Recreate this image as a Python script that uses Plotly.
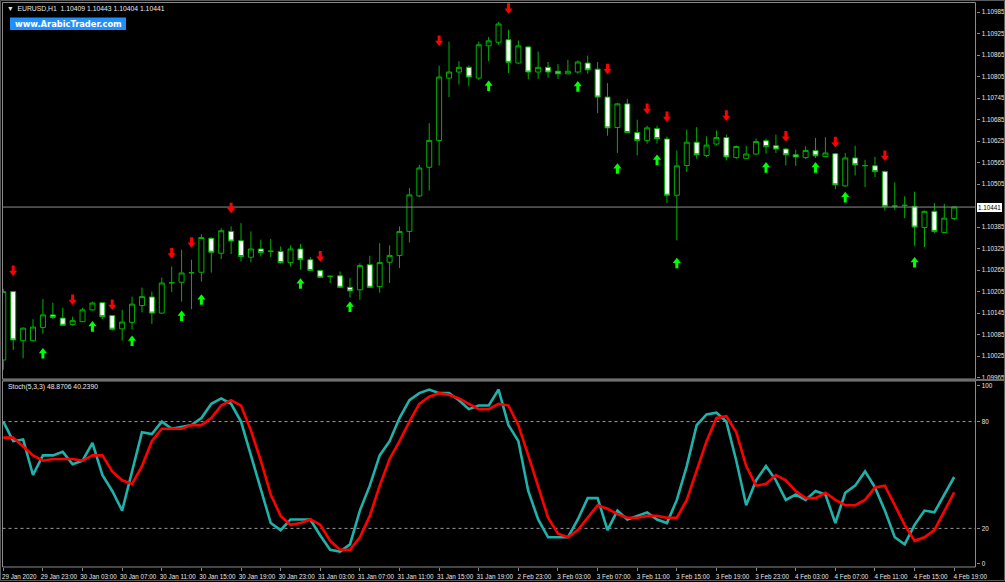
import plotly.graph_objects as go

# ---------------- data ----------------
symbol = "EURUSD,H1"
tick_labels = ["29 Jan 2020", "29 Jan 23:00", "30 Jan 03:00", "30 Jan 07:00", "30 Jan 11:00",
               "30 Jan 15:00", "30 Jan 19:00", "30 Jan 23:00", "31 Jan 03:00", "31 Jan 07:00",
               "31 Jan 11:00", "31 Jan 15:00", "31 Jan 19:00", "2 Feb 23:00", "3 Feb 03:00",
               "3 Feb 07:00", "3 Feb 11:00", "3 Feb 15:00", "3 Feb 19:00", "3 Feb 23:00",
               "4 Feb 03:00", "4 Feb 07:00", "4 Feb 11:00", "4 Feb 15:00", "4 Feb 19:00"]
bars_per_label = 4

open_ = [1.10014, 1.10205, 1.10068, 1.10068, 1.10105, 1.10140, 1.10131, 1.10113, 1.10121, 1.10154,
         1.10174, 1.10138, 1.10101, 1.10119, 1.10166, 1.10190, 1.10145, 1.10229, 1.10231, 1.10257,
         1.10259, 1.10354, 1.10312, 1.10373, 1.10347, 1.10301, 1.10324, 1.10317, 1.10317, 1.10286,
         1.10324, 1.10294, 1.10264, 1.10247, 1.10249, 1.10217, 1.10210, 1.10280, 1.10219, 1.10287,
         1.10306, 1.10373, 1.10472, 1.10552, 1.10627, 1.10801, 1.10818, 1.10831, 1.10801, 1.10891,
         1.10901, 1.10908, 1.10843, 1.10888, 1.10818, 1.10831, 1.10820, 1.10813, 1.10818, 1.10843,
         1.10826, 1.10748, 1.10663, 1.10729, 1.10649, 1.10627, 1.10660, 1.10631, 1.10474, 1.10557,
         1.10622, 1.10585, 1.10617, 1.10635, 1.10579, 1.10577, 1.10589, 1.10626, 1.10612, 1.10603,
         1.10587, 1.10579, 1.10599, 1.10582, 1.10590, 1.10500, 1.10578, 1.10556, 1.10556, 1.10540,
         1.10443, 1.10445, 1.10443, 1.10384, 1.10429, 1.10370, 1.10409]
high = [1.10213, 1.10207, 1.10105, 1.10128, 1.10184, 1.10174, 1.10160, 1.10135, 1.10160, 1.10177,
        1.10176, 1.10140, 1.10154, 1.10191, 1.10216, 1.10205, 1.10244, 1.10275, 1.10322, 1.10294,
        1.10365, 1.10356, 1.10382, 1.10387, 1.10396, 1.10373, 1.10350, 1.10352, 1.10331, 1.10334,
        1.10338, 1.10301, 1.10266, 1.10249, 1.10261, 1.10243, 1.10284, 1.10305, 1.10340, 1.10334,
        1.10387, 1.10494, 1.10559, 1.10675, 1.10836, 1.10903, 1.10848, 1.10836, 1.10903, 1.10916,
        1.10958, 1.10936, 1.10906, 1.10890, 1.10875, 1.10846, 1.10840, 1.10852, 1.10850, 1.10864,
        1.10846, 1.10787, 1.10732, 1.10743, 1.10685, 1.10668, 1.10668, 1.10638, 1.10599, 1.10657,
        1.10664, 1.10638, 1.10655, 1.10643, 1.10613, 1.10612, 1.10632, 1.10632, 1.10643, 1.10606,
        1.10601, 1.10610, 1.10634, 1.10636, 1.10592, 1.10592, 1.10612, 1.10573, 1.10581, 1.10543,
        1.10510, 1.10471, 1.10484, 1.10431, 1.10452, 1.10450, 1.10443]
low = [1.09987, 1.10042, 1.10019, 1.10066, 1.10087, 1.10128, 1.10110, 1.10110, 1.10120, 1.10152,
       1.10128, 1.10096, 1.10068, 1.10100, 1.10147, 1.10115, 1.10143, 1.10204, 1.10177, 1.10156,
       1.10233, 1.10258, 1.10296, 1.10310, 1.10289, 1.10287, 1.10303, 1.10301, 1.10283, 1.10275,
       1.10266, 1.10263, 1.10243, 1.10229, 1.10216, 1.10188, 1.10182, 1.10215, 1.10202, 1.10229,
       1.10271, 1.10342, 1.10469, 1.10487, 1.10557, 1.10748, 1.10783, 1.10778, 1.10796, 1.10848,
       1.10894, 1.10815, 1.10841, 1.10798, 1.10799, 1.10802, 1.10799, 1.10812, 1.10813, 1.10813,
       1.10703, 1.10640, 1.10592, 1.10648, 1.10585, 1.10618, 1.10618, 1.10452, 1.10348, 1.10539,
       1.10576, 1.10580, 1.10613, 1.10571, 1.10576, 1.10576, 1.10587, 1.10590, 1.10592, 1.10557,
       1.10556, 1.10575, 1.10578, 1.10581, 1.10491, 1.10498, 1.10529, 1.10497, 1.10525, 1.10431,
       1.10433, 1.10410, 1.10333, 1.10329, 1.10368, 1.10368, 1.10404]
close = [1.10205, 1.10070, 1.10103, 1.10106, 1.10140, 1.10133, 1.10111, 1.10124, 1.10154, 1.10173,
         1.10135, 1.10100, 1.10120, 1.10170, 1.10191, 1.10145, 1.10229, 1.10230, 1.10257, 1.10258,
         1.10356, 1.10315, 1.10375, 1.10346, 1.10303, 1.10324, 1.10314, 1.10318, 1.10286, 1.10324,
         1.10294, 1.10264, 1.10245, 1.10248, 1.10217, 1.10207, 1.10278, 1.10217, 1.10286, 1.10306,
         1.10373, 1.10475, 1.10550, 1.10627, 1.10804, 1.10818, 1.10831, 1.10804, 1.10894, 1.10905,
         1.10952, 1.10845, 1.10891, 1.10818, 1.10831, 1.10818, 1.10813, 1.10820, 1.10846, 1.10824,
         1.10748, 1.10662, 1.10729, 1.10649, 1.10627, 1.10662, 1.10632, 1.10474, 1.10556, 1.10622,
         1.10587, 1.10614, 1.10635, 1.10581, 1.10610, 1.10589, 1.10624, 1.10610, 1.10603, 1.10587,
         1.10581, 1.10599, 1.10584, 1.10592, 1.10503, 1.10578, 1.10559, 1.10557, 1.10540, 1.10443,
         1.10444, 1.10446, 1.10385, 1.10429, 1.10373, 1.10410, 1.10441]

# signal arrows (bar index, price level of arrow)
down_idx = [1, 7, 11, 17, 19, 23, 32, 44, 51, 61, 65, 67, 73, 79, 84, 89]
down_price = [1.10261, 1.10180, 1.10166, 1.10310, 1.10340, 1.10436, 1.10301, 1.10903, 1.10993,
              1.10824, 1.10713, 1.10691, 1.10694, 1.10636, 1.10620, 1.10582]
up_idx = [4, 9, 13, 18, 20, 30, 35, 49, 58, 62, 66, 68, 77, 82, 85, 92]
up_price = [1.10035, 1.10110, 1.10070, 1.10140, 1.10185, 1.10230, 1.10165, 1.10782, 1.10780,
            1.10551, 1.10575, 1.10287, 1.10554, 1.10554, 1.10471, 1.10289]

stoch_k = [80, 69, 70, 50, 61, 61, 63, 56, 58, 68, 50, 41, 30, 52, 74, 73, 80, 76, 77, 78,
           82, 90, 93, 90, 80, 61, 41, 23, 19, 25, 25, 25, 16, 8, 7, 11, 30, 44, 61, 69,
           82, 92, 96, 98, 96, 96, 92, 87, 89, 89, 98, 78, 69, 41, 25, 15, 15, 15, 25, 37,
           37, 19, 30, 25, 27, 29, 25, 23, 36, 55, 78, 84, 85, 80, 58, 33, 47, 55, 47, 36,
           39, 36, 41, 39, 23, 40, 44, 52, 43, 30, 15, 11, 22, 30, 29, 39, 48.8706]
stoch_d = [71, 71, 66, 61, 58, 59, 59, 59, 58, 61, 61, 52, 47, 45, 55, 69, 76, 76, 76, 78,
           78, 82, 89, 92, 89, 75, 58, 39, 27, 22, 23, 25, 22, 13, 8, 8, 15, 27, 44, 59,
           69, 80, 90, 94, 96, 95, 93, 90, 87, 87, 90, 89, 78, 61, 44, 26, 17, 15, 19, 26,
           33, 31, 28, 26, 26, 27, 27, 26, 26, 36, 53, 69, 82, 83, 74, 55, 44, 45, 50, 47,
           41, 37, 37, 40, 36, 33, 33, 36, 43, 44, 33, 22, 13, 15, 19, 30, 40.2390]

price_ticks = [1.10985, 1.10925, 1.10865, 1.10805, 1.10745, 1.10685, 1.10625, 1.10565, 1.10505,
               1.10385, 1.10325, 1.10265, 1.10205, 1.10145, 1.10085, 1.10025, 1.09965]
stoch_ticks = [0, 20, 80, 100]
stoch_levels = [20, 80]

# ---------------- layout geometry ----------------
W, H = 1005, 582
PX_L, PX_R = 2.5, 975.5          # pane left / right (pixels)
P_TOP, P_BOT = 2.5, 379.0        # price pane (pixels from top)
S_TOP, S_BOT = 381.0, 567.0      # stochastic pane
price_range = [1.09961, 1.11012]
stoch_range = [-1.7, 102.8]
x_range = [-0.08, 98.15]

def fy(px):
    return (H - px) / H

def fx(px):
    return px / W

n = len(close)
xs = list(range(n))
ppp = (price_range[1] - price_range[0]) / (P_BOT - P_TOP)   # price per pixel

CANDLE = "#00b000"
FRAME = "#8a8a8a"
TXT = "#e6e6e6"
FONT = "Liberation Sans, Arial, sans-serif"
AX_FONT = dict(size=6.3, color=TXT, family=FONT)

fig = go.Figure()

fig.add_trace(go.Candlestick(
    x=xs, open=open_, high=high, low=low, close=close,
    increasing=dict(line=dict(color=CANDLE, width=1), fillcolor="#000000"),
    decreasing=dict(line=dict(color=CANDLE, width=1), fillcolor="#ffffff"),
    whiskerwidth=0, xaxis="x", yaxis="y", hoverinfo="skip", showlegend=False))

# current price line
fig.add_trace(go.Scatter(x=[x_range[0], x_range[1]], y=[close[-1], close[-1]], mode="lines",
                         line=dict(color="#8c8c8c", width=1), xaxis="x", yaxis="y",
                         hoverinfo="skip", showlegend=False))

# down arrows: shaft above, head below
fig.add_trace(go.Scatter(x=down_idx, y=[p + 2.6 * ppp for p in down_price], mode="markers",
                         marker=dict(symbol="line-ns", size=5, line=dict(color="#ff0000", width=3)),
                         xaxis="x", yaxis="y", hoverinfo="skip", showlegend=False))
fig.add_trace(go.Scatter(x=down_idx, y=[p - 1.0 * ppp for p in down_price], mode="markers",
                         marker=dict(symbol="triangle-down", size=7, color="#ff0000", line=dict(width=0)),
                         xaxis="x", yaxis="y", hoverinfo="skip", showlegend=False))
# up arrows
fig.add_trace(go.Scatter(x=up_idx, y=[p - 2.6 * ppp for p in up_price], mode="markers",
                         marker=dict(symbol="line-ns", size=5, line=dict(color="#00ff00", width=3)),
                         xaxis="x", yaxis="y", hoverinfo="skip", showlegend=False))
fig.add_trace(go.Scatter(x=up_idx, y=[p + 1.0 * ppp for p in up_price], mode="markers",
                         marker=dict(symbol="triangle-up", size=7, color="#00ff00", line=dict(width=0)),
                         xaxis="x", yaxis="y", hoverinfo="skip", showlegend=False))

# stochastic levels
for lv in stoch_levels:
    fig.add_trace(go.Scatter(x=[x_range[0], x_range[1]], y=[lv, lv], mode="lines",
                             line=dict(color="#9a9a9a", width=1, dash="dot"),
                             xaxis="x2", yaxis="y2", hoverinfo="skip", showlegend=False))

fig.add_trace(go.Scatter(x=xs, y=stoch_k, mode="lines", line=dict(color="#20b2aa", width=2.6),
                         xaxis="x2", yaxis="y2", hoverinfo="skip", showlegend=False))
fig.add_trace(go.Scatter(x=xs, y=stoch_d, mode="lines", line=dict(color="#ff0000", width=2.6),
                         xaxis="x2", yaxis="y2", hoverinfo="skip", showlegend=False))

axis_common = dict(showgrid=False, zeroline=False, fixedrange=True, automargin=False)
fig.update_layout(
    width=W, height=H, margin=dict(l=0, r=0, t=0, b=0, pad=0), autosize=False,
    paper_bgcolor="#000000", plot_bgcolor="#000000",
    showlegend=False, hovermode=False, boxgap=0.28,
    font=dict(family=FONT, color=TXT, size=7),
    xaxis=dict(domain=[fx(PX_L), fx(PX_R)], range=x_range, anchor="y",
               showticklabels=False, ticks="", rangeslider=dict(visible=False), **axis_common),
    yaxis=dict(domain=[fy(P_BOT), fy(P_TOP)], range=price_range, anchor="x", side="right",
               tickvals=price_ticks, ticktext=[f"{v:.5f}" for v in price_ticks],
               ticks="outside", ticklen=3, tickcolor=FRAME, tickfont=AX_FONT,
               ticklabelstandoff=1, **axis_common),
    xaxis2=dict(domain=[fx(PX_L), fx(PX_R)], range=x_range, anchor="y2",
                tickvals=[i * bars_per_label for i in range(len(tick_labels))], ticktext=tick_labels,
                tickangle=0, ticks="outside", ticklen=3, tickcolor=FRAME, tickfont=AX_FONT,
                ticklabelshift=16, ticklabelstandoff=0, **axis_common),
    yaxis2=dict(domain=[fy(S_BOT), fy(S_TOP)], range=stoch_range, anchor="x2", side="right",
                tickvals=stoch_ticks, ticktext=[str(v) for v in stoch_ticks],
                ticks="outside", ticklen=3, tickcolor=FRAME, tickfont=AX_FONT,
                ticklabelstandoff=1, **axis_common),
)

shapes = []
# pane frames
shapes.append(dict(type="rect", xref="paper", yref="paper", x0=fx(PX_L), x1=fx(PX_R),
                   y0=fy(P_BOT), y1=fy(P_TOP), line=dict(color=FRAME, width=1)))
shapes.append(dict(type="rect", xref="paper", yref="paper", x0=fx(PX_L), x1=fx(PX_R),
                   y0=fy(S_BOT), y1=fy(S_TOP), line=dict(color=FRAME, width=1)))
# separator band between panes
shapes.append(dict(type="rect", xref="paper", yref="paper", x0=fx(PX_L), x1=1.0,
                   y0=fy(S_TOP), y1=fy(P_BOT), fillcolor="#6e6e6e", line=dict(width=0)))
# outer window border
shapes.append(dict(type="rect", xref="paper", yref="paper", x0=fx(0.5), x1=fx(W - 0.5),
                   y0=fy(H - 1.5), y1=fy(0.5), line=dict(color="#5a5a5a", width=1)))
# website badge
shapes.append(dict(type="rect", xref="paper", yref="paper", x0=fx(10), x1=fx(126),
                   y0=fy(30), y1=fy(17.5), fillcolor="#1e8fff", line=dict(width=0)))
fig.update_layout(shapes=shapes)

annotations = [
    dict(xref="paper", yref="paper", x=fx(5), y=fy(8.5), xanchor="left", yanchor="middle",
         text=f"▼  {symbol}  {open_[-1]:.5f} {high[-1]:.5f} {low[-1]:.5f} {close[-1]:.5f}",
         showarrow=False, font=dict(size=6.8, color=TXT, family=FONT)),
    dict(xref="paper", yref="paper", x=fx(68), y=fy(24), xanchor="center", yanchor="middle",
         text="<b>www.ArabicTrader.com</b>", showarrow=False,
         font=dict(size=8.3, color="#ffffff", family="DejaVu Sans, Arial, sans-serif")),
    dict(xref="paper", yref="paper", x=fx(6), y=fy(387), xanchor="left", yanchor="middle",
         text=f"Stoch(5,3,3) {stoch_k[-1]:.4f} {stoch_d[-1]:.4f}",
         showarrow=False, font=dict(size=6.8, color=TXT, family=FONT)),
    dict(xref="paper", yref="y", x=fx(976.5), y=close[-1], xanchor="left", yanchor="middle",
         text=f"{close[-1]:.5f}", showarrow=False, bgcolor="#ffffff", borderpad=1,
         bordercolor="#ffffff", borderwidth=0,
         font=dict(size=6.3, color="#000000", family=FONT)),
]
fig.update_layout(annotations=annotations)

# remove the browser's default page margin so the figure sits at the window origin
page_js = ("document.documentElement.style.margin='0';document.body.style.margin='0';"
           "document.body.style.padding='0';document.body.style.overflow='hidden';")
fig.write_html("out.html", post_script=page_js,
               config={"displayModeBar": False, "staticPlot": True})
